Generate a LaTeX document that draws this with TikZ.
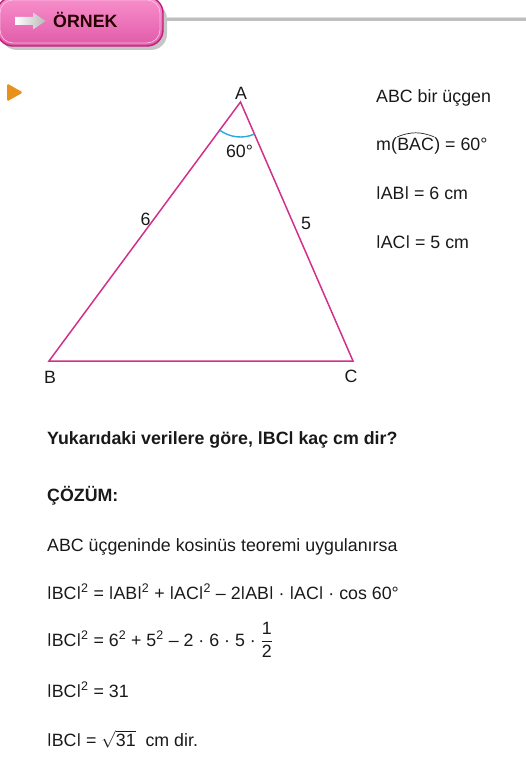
\documentclass[tikz,border=0pt]{standalone}
\usepackage{fontspec}
\setmainfont{Liberation Sans}
\definecolor{tri}{HTML}{D2308A}
\definecolor{arcblue}{HTML}{2AA8E0}
\definecolor{pinkA}{HTML}{F890CC}
\definecolor{pinkB}{HTML}{E05AA8}
\definecolor{pinkD}{HTML}{C01E7C}
\definecolor{orng}{HTML}{E8921C}
\newcommand{\absb}{\raisebox{0.16em}{\scalebox{1}[0.76]{|}}}
\begin{document}
\begin{tikzpicture}[x=1pt,y=-1pt,
  txt/.style={anchor=base west, inner sep=0pt, font=\fontsize{17.8}{21}\selectfont, text=black!90},
  lbl/.style={inner sep=0pt, font=\fontsize{17.8}{21}\selectfont, text=black!90},
  btxt/.style={txt, font=\fontsize{17.8}{21}\selectfont\bfseries},
  triline/.style={draw=tri, line width=1.5pt, line join=miter}]
\useasboundingbox (0,0) rectangle (526,770);
% header
\fill[gray!45, rounded corners=16pt] (1,3) rectangle (167,50);
\shade[top color=pinkA, bottom color=pinkB, draw=pinkD, line width=1.4pt, rounded corners=16pt] (-3,-3) rectangle (163,46);
\draw[pinkA!60!white, line width=0.8pt, rounded corners=13pt] (0,0) rectangle (160,43);
\shade[left color=white, right color=gray!55] (15,17) -- (33,17) -- (33,12.5) -- (45.5,21) -- (33,29.5) -- (33,25) -- (15,25) -- cycle;
\node[btxt, text=black!85!red] (ornek) at (53,28) {ÖRNEK};
\draw[gray!50, line width=3.5pt] (166,19.5) -- (526,19.5);
\draw[gray!25, line width=1pt] (166,18) -- (526,18);
% marker
\fill[orng, rounded corners=1.5pt] (7,83.5) -- (23,92.5) -- (7,101.5) -- cycle;
% triangle
\coordinate (A) at (240.5,102);
\coordinate (B) at (49,361);
\coordinate (C) at (353,361);
\draw[triline] (A) -- (B) -- (C) -- cycle;
\draw[arcblue, line width=1.4pt] (A) ++(234:35pt) arc[start angle=234, end angle=293, radius=35pt];
\node[lbl, anchor=base] (la) at (241,100) {A};
\node[lbl, anchor=base] (lb) at (50,383) {B};
\node[lbl, anchor=base] (lc) at (351,382) {C};
\node[lbl, anchor=base] (l6) at (145.5,225) {6};
\node[lbl, anchor=base] (l5) at (306,229) {5};
\node[lbl, anchor=base] (l60) at (239.5,158) {60°};
% given data
\node[txt] (g1) at (376,103) {ABC bir üçgen};
\node[txt] (m1) at (376,151) {m(};
\node[txt] (bac) at (m1.base east) {BAC};
\node[txt] (m2) at (bac.base east) {) = 60°};
\draw[black!85, line width=0.7pt] ([yshift=1.5pt]bac.north west) to[bend left=22] ([yshift=1.5pt]bac.north east);
\node[txt] (g3) at (376,199) {\absb AB\absb{} = 6 cm};
\node[txt] (g4) at (376,248) {\absb AC\absb{} = 5 cm};
% question & solution
\node[btxt] (q) at (47,444) {Yukarıdaki verilere göre, \absb BC\absb{} kaç cm dir?};
\node[btxt] (coz) at (47,501) {ÇÖZÜM:};
\node[txt] (s1) at (47,551) {ABC üçgeninde kosinüs teoremi uygulanırsa};
\node[txt] (s2) at (47,599) {\absb BC\absb\textsuperscript{2} = \absb AB\absb\textsuperscript{2} + \absb AC\absb\textsuperscript{2} – 2\absb AB\absb{} · \absb AC\absb{} · cos 60°};
\node[txt] (s3) at (47,646) {\absb BC\absb\textsuperscript{2} = 6\textsuperscript{2} + 5\textsuperscript{2} – 2 · 6 · 5 · $\displaystyle\frac{\mbox{1}}{\mbox{2}}$};
\node[txt] (s4) at (47,697) {\absb BC\absb\textsuperscript{2} = 31};
\node[txt] (s5) at (47,746) {\absb BC\absb{} = $\sqrt{\mbox{31}}$\ \ cm dir.};
\end{tikzpicture}
\end{document}
